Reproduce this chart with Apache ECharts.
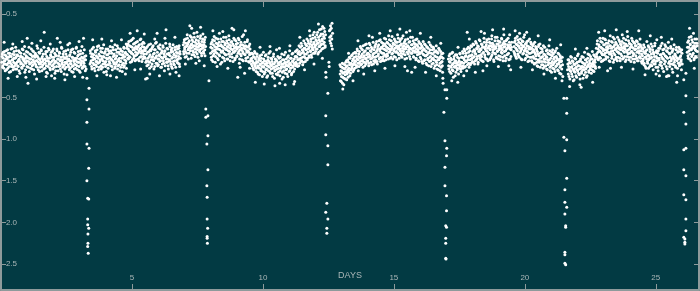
<!DOCTYPE html>
<html>
<head>
<meta charset="utf-8">
<script src="https://cdn.jsdelivr.net/npm/echarts@6/dist/echarts.min.js"></script>
<style>
html,body{margin:0;padding:0;background:#023a43;}
#chart{width:700px;height:291px;}
</style>
</head>
<body>
<div id="chart"></div>
<script>
// x: days, y: relative magnitude (axis inverted)
const xTicks = [5, 10, 15, 20, 25];
const yTicks = [-0.5, 0, 0.5, 1.0, 1.5, 2.0, 2.5];
const xLabel = 'DAYS';

const bandA = [[0.03,0.08],[0.05,-0.02],[0.07,0.12],[0.09,0.03],[0.11,0.15],[0.13,-0.05],[0.15,0.06],[0.17,0.10],[0.19,0.00],[0.21,0.17],[0.23,0.04],[0.25,-0.07],[0.27,0.09],[0.29,0.02],[0.31,0.13],[0.33,-0.03],[0.35,0.07],[0.37,0.19],[0.39,0.01],[0.41,0.11],[0.43,-0.09],[0.45,0.05],[0.47,0.14],[0.49,0.03],[0.51,-0.01],[0.53,0.09],[0.55,0.16],[0.57,0.02],[0.59,-0.06],[0.61,0.08],[0.63,0.12],[0.65,0.00],[0.67,0.05],[0.69,0.18],[0.71,-0.04],[0.73,0.07],[0.75,0.10],[0.77,0.01],[0.79,0.14],[0.81,-0.08],[0.83,0.04],[0.85,0.11],[0.87,0.06],[0.89,-0.02],[0.91,0.20],[0.93,0.03],[0.95,0.09],[0.97,-0.05],[0.99,0.13],[1.00,-0.21],[1.01,0.02],[1.03,0.33],[1.05,0.07],[1.07,-0.10],[1.09,0.10],[1.11,0.04],[1.13,0.15],[1.15,-0.01],[1.17,0.08],[1.19,0.12],[1.21,-0.06],[1.23,0.05],[1.25,0.17],[1.27,0.00],[1.29,0.09],[1.31,-0.03],[1.33,0.11],[1.35,0.06],[1.37,-0.12],[1.39,0.14],[1.41,0.02],[1.43,0.08],[1.45,-0.04],[1.47,0.19],[1.49,0.05],[1.51,0.10],[1.53,-0.07],[1.55,0.03],[1.57,0.13],[1.59,0.07],[1.61,-0.02],[1.63,0.16],[1.65,-0.28],[1.67,0.04],[1.69,0.09],[1.71,-0.05],[1.73,0.12],[1.75,0.01],[1.77,0.21],[1.79,0.06],[1.81,-0.09],[1.83,0.10],[1.85,0.03],[1.87,0.15],[1.89,-0.01],[1.91,0.08],[1.93,0.24],[1.95,0.02],[1.97,-0.06],[1.99,0.11],[2.01,0.05],[2.03,0.14],[2.05,-0.03],[2.07,0.07],[2.09,0.18],[2.11,0.00],[2.13,-0.08],[2.15,-0.21],[2.17,0.09],[2.19,0.04],[2.21,0.13],[2.23,-0.04],[2.25,0.06],[2.27,0.16],[2.29,0.02],[2.31,-0.10],[2.33,0.10],[2.35,0.05],[2.37,-0.02],[2.39,0.12],[2.41,0.22],[2.43,0.03],[2.45,0.08],[2.47,-0.06],[2.49,0.14],[2.51,0.01],[2.53,0.07],[2.55,-0.13],[2.57,0.11],[2.59,0.04],[2.61,0.17],[2.63,-0.01],[2.65,0.09],[2.67,0.06],[2.69,-0.07],[2.71,0.13],[2.73,0.02],[2.75,0.20],[2.77,0.05],[2.79,-0.04],[2.81,0.10],[2.83,0.03],[2.85,0.15],[2.87,-0.09],[2.89,0.07],[2.91,0.12],[2.93,0.00],[2.95,-0.05],[2.97,0.08],[2.99,0.18],[3.01,0.04],[3.03,-0.02],[3.05,0.11],[3.07,0.06],[3.09,-0.11],[3.11,0.14],[3.13,0.03],[3.15,-0.21],[3.17,0.09],[3.19,0.01],[3.21,0.13],[3.23,0.05],[3.25,0.16],[3.28,0.27]];
const bandA2 = [[0.04,0.01],[0.06,0.14],[0.08,-0.04],[0.10,0.07],[0.12,0.10],[0.14,-0.01],[0.16,0.18],[0.18,0.04],[0.20,-0.06],[0.22,0.11],[0.24,0.02],[0.26,0.15],[0.28,-0.03],[0.30,0.06],[0.32,0.20],[0.34,0.00],[0.36,0.09],[0.38,-0.08],[0.40,0.13],[0.42,0.05],[0.44,-0.02],[0.46,0.17],[0.48,0.08],[0.50,-0.05],[0.52,0.12],[0.54,0.03],[0.56,-0.10],[0.58,0.10],[0.60,0.16],[0.62,-0.01],[0.64,0.07],[0.66,0.13],[0.68,-0.06],[0.70,0.04],[0.72,0.21],[0.74,0.01],[0.76,-0.03],[0.78,0.09],[0.80,0.15],[0.82,0.02],[0.84,-0.07],[0.86,0.12],[0.88,0.05],[0.90,-0.11],[0.92,0.08],[0.94,0.17],[0.96,0.00],[0.98,0.06],[1.02,-0.04],[1.04,0.14],[1.06,0.03],[1.08,0.19],[1.10,-0.02],[1.12,0.09],[1.14,0.04],[1.16,-0.08],[1.18,0.16],[1.20,0.01],[1.22,0.11],[1.24,-0.05],[1.26,0.07],[1.28,0.22],[1.30,0.02],[1.32,-0.01],[1.34,0.13],[1.36,0.06],[1.38,0.00],[1.40,-0.09],[1.42,0.17],[1.44,0.04],[1.46,0.10],[1.48,-0.03],[1.50,0.14],[1.52,0.08],[1.54,-0.06],[1.56,0.18],[1.58,0.01],[1.60,0.11],[1.62,0.05],[1.64,-0.10],[1.66,0.09],[1.68,0.15],[1.70,-0.02],[1.72,0.06],[1.74,0.20],[1.76,-0.05],[1.78,0.03],[1.80,0.13],[1.82,0.07],[1.84,-0.07],[1.86,0.10],[1.88,0.17],[1.90,0.00],[1.92,-0.04],[1.94,0.12],[1.96,0.06],[1.98,0.16],[2.00,-0.08],[2.02,0.02],[2.04,0.09],[2.06,0.21],[2.08,-0.01],[2.10,0.07],[2.12,0.13],[2.14,-0.06],[2.16,0.04],[2.18,0.18],[2.20,0.00],[2.22,0.10],[2.24,-0.03],[2.26,0.12],[2.28,0.05],[2.30,0.19],[2.32,-0.09],[2.34,0.08],[2.36,0.14],[2.38,0.01],[2.40,-0.05],[2.42,0.11],[2.44,0.16],[2.46,0.03],[2.48,-0.02],[2.50,0.09],[2.52,0.23],[2.54,0.04],[2.56,-0.07],[2.58,0.13],[2.60,0.06],[2.62,0.00],[2.64,0.15],[2.66,-0.04],[2.68,0.10],[2.70,0.19],[2.72,0.02],[2.74,-0.08],[2.76,0.12],[2.78,0.07],[2.80,0.16],[2.82,-0.03],[2.84,0.05],[2.86,0.11],[2.88,-0.10],[2.90,0.03],[2.92,0.17],[2.94,0.08],[2.96,-0.01],[2.98,0.13],[3.00,0.04],[3.02,0.20],[3.04,-0.06],[3.06,0.09],[3.08,0.02],[3.10,0.15],[3.12,-0.03],[3.14,0.07],[3.16,0.12],[3.18,-0.07],[3.20,0.05],[3.22,0.18],[3.24,0.00]];

const dip1 = [[3.36,0.39],[3.28,0.53],[3.36,0.64],[3.28,0.80],[3.28,1.06],[3.36,1.11],[3.35,1.35],[3.28,1.50],[3.31,1.71],[3.35,1.72],[3.31,1.96],[3.31,2.03],[3.35,2.07],[3.32,2.14],[3.32,2.25],[3.31,2.29],[3.33,2.37]];

const bandB = [[3.40,0.10],[3.42,-0.03],[3.44,0.06],[3.46,0.13],[3.48,-0.08],[3.50,0.02],[3.52,0.09],[3.54,-0.01],[3.56,0.15],[3.58,0.04],[3.60,-0.06],[3.62,0.11],[3.64,0.00],[3.66,0.07],[3.68,-0.11],[3.70,0.03],[3.72,0.17],[3.74,-0.02],[3.76,0.08],[3.78,0.05],[3.80,-0.09],[3.82,0.12],[3.84,0.01],[3.86,-0.04],[3.88,0.14],[3.90,0.06],[3.92,-0.13],[3.94,0.02],[3.96,0.10],[3.98,-0.05],[4.00,0.07],[4.02,0.19],[4.04,-0.01],[4.06,0.04],[4.08,-0.08],[4.10,0.11],[4.12,0.03],[4.14,-0.03],[4.16,0.09],[4.18,0.24],[4.20,-0.06],[4.22,0.05],[4.24,0.13],[4.26,-0.10],[4.28,0.01],[4.30,0.08],[4.32,-0.02],[4.34,0.15],[4.36,0.04],[4.38,-0.07],[4.40,0.10],[4.42,0.00],[4.44,-0.12],[4.46,0.06],[4.48,0.12],[4.50,-0.04],[4.52,0.03],[4.54,0.18],[4.56,-0.08],[4.58,0.07],[4.60,-0.01],[4.62,0.11],[4.64,-0.05],[4.66,0.02],[4.68,0.14],[4.70,-0.09],[4.72,0.05],[4.74,-0.03],[4.76,0.09],[4.78,-0.14],
[4.80,-0.02],[4.82,-0.12],[4.84,0.03],[4.86,-0.08],[4.88,-0.17],[4.90,0.01],[4.92,-0.05],[4.94,0.08],[4.96,-0.11],[4.98,-0.03],[5.00,-0.19],[5.02,0.05],[5.04,-0.07],[5.06,-0.14],[5.08,0.00],[5.10,-0.09],[5.12,0.06],[5.14,-0.04],[5.16,-0.16],[5.18,-0.01],[5.20,-0.30],[5.22,-0.10],[5.24,0.04],[5.26,-0.06],[5.28,-0.13],[5.30,0.02],[5.32,-0.08],[5.34,-0.20],[5.36,-0.03],[5.38,0.07],[5.40,-0.11],[5.42,-0.05],[5.44,0.01],[5.46,-0.15],[5.48,-0.07],
[5.50,0.03],[5.52,0.28],[5.54,-0.09],[5.56,0.06],[5.58,0.27],[5.60,-0.04],[5.62,0.11],[5.64,-0.13],[5.66,0.01],[5.68,0.08],[5.70,-0.07],[5.72,-0.06],[5.74,0.13],[5.76,0.02],[5.78,-0.10],[5.80,0.05],[5.82,-0.02],[5.84,0.16],[5.86,-0.07],[5.88,0.03],[5.90,-0.15],[5.92,0.09],[5.94,0.00],[5.96,-0.27],[5.98,0.12],[6.00,-0.11],[6.02,0.04],[6.04,-0.01],[6.06,0.07],[6.08,-0.08],[6.10,0.14],[6.12,0.02],[6.14,-0.04],[6.16,0.10],[6.18,-0.12],[6.20,0.06],[6.22,-0.02],[6.24,0.18],[6.26,-0.06],[6.28,0.01],[6.30,-0.31],[6.32,0.08],[6.34,-0.09],[6.36,0.04],[6.38,0.12],[6.40,-0.03],[6.42,0.06],[6.44,-0.14],[6.46,0.00],[6.48,0.10],[6.50,-0.07],[6.52,0.03],[6.54,0.15],[6.56,-0.05],[6.58,0.07],[6.60,-0.01],[6.62,0.11],[6.64,-0.10],[6.66,0.02],[6.68,0.20],[6.70,-0.04],[6.72,0.05],[6.74,-0.08],[6.76,0.09],[6.78,0.01],[6.80,-0.12],[6.82,0.13],[6.84,-0.02],
[6.97,-0.05],[6.99,-0.16],[7.01,-0.08],[7.03,0.02],[7.05,-0.20],[7.07,-0.11],[7.09,-0.03],[7.11,-0.25],[7.13,-0.14],[7.15,0.04],[7.17,-0.09],[7.19,-0.18],[7.21,-0.36],[7.23,-0.06],[7.25,-0.13],[7.27,-0.22],[7.29,-0.01],[7.31,-0.10],[7.33,-0.17],[7.35,-0.04],[7.37,-0.27],[7.39,-0.12],[7.41,0.01],[7.43,-0.08],[7.45,-0.19],[7.47,-0.14],[7.49,-0.02],[7.51,-0.23],[7.53,-0.10],[7.55,-0.15],[7.57,0.06],[7.59,-0.07],[7.61,-0.21],[7.63,-0.12],[7.65,-0.03],[7.67,-0.17],[7.69,-0.09],[7.71,-0.26],[7.73,-0.05],[7.75,-0.13],[7.77,-0.19],[7.79,0.00],[7.81,-0.11]];
const bandB2 = [[3.41,-0.06],[3.43,0.08],[3.45,0.01],[3.47,0.16],[3.49,-0.02],[3.51,0.05],[3.53,-0.10],[3.55,0.11],[3.57,0.03],[3.59,0.18],[3.61,-0.04],[3.63,0.07],[3.65,0.13],[3.67,-0.07],[3.69,0.02],[3.71,0.09],[3.73,-0.12],[3.75,0.14],[3.77,0.00],[3.79,0.06],[3.81,-0.05],[3.83,0.16],[3.85,0.04],[3.87,-0.09],[3.89,0.10],[3.91,0.01],[3.93,0.20],[3.95,-0.03],[3.97,0.08],[3.99,0.13],[4.01,-0.08],[4.03,0.03],[4.05,0.11],[4.07,-0.01],[4.09,0.15],[4.11,-0.06],[4.13,0.07],[4.15,0.02],[4.17,-0.11],[4.19,0.12],[4.21,0.04],[4.23,-0.03],[4.25,0.17],[4.27,0.06],[4.29,-0.07],[4.31,0.10],[4.33,0.00],[4.35,-0.13],[4.37,0.13],[4.39,0.03],[4.41,0.08],[4.43,-0.04],[4.45,0.16],[4.47,-0.09],[4.49,0.05],[4.51,0.11],[4.53,-0.02],[4.55,0.07],[4.57,0.14],[4.59,-0.06],[4.61,0.03],[4.63,0.19],[4.65,-0.01],[4.67,0.09],[4.69,-0.10],[4.71,0.12],[4.73,0.01],[4.75,-0.04],[4.77,0.06],[4.79,0.15],
[4.81,-0.09],[4.83,-0.01],[4.85,-0.14],[4.87,0.04],[4.89,-0.06],[4.91,-0.12],[4.93,0.02],[4.95,-0.18],[4.97,-0.04],[4.99,0.07],[5.01,-0.10],[5.03,-0.02],[5.05,-0.21],[5.07,0.03],[5.09,-0.07],[5.11,-0.15],[5.13,0.00],[5.15,-0.11],[5.17,0.05],[5.19,-0.08],[5.21,-0.17],[5.23,-0.03],[5.25,-0.12],[5.27,0.06],[5.29,-0.05],[5.31,-0.19],[5.33,-0.09],[5.35,0.01],[5.37,-0.14],[5.39,-0.06],[5.41,0.04],[5.43,-0.16],[5.45,-0.02],[5.47,-0.10],[5.49,0.02],
[5.51,-0.06],[5.53,0.08],[5.55,-0.02],[5.57,0.12],[5.59,-0.11],[5.61,0.03],[5.63,0.07],[5.65,-0.05],[5.67,0.15],[5.69,-0.01],[5.71,-0.14],[5.73,0.05],[5.75,-0.08],[5.77,0.10],[5.79,0.01],[5.81,-0.12],[5.83,0.06],[5.85,-0.03],[5.87,0.13],[5.89,-0.07],[5.91,0.02],[5.93,-0.16],[5.95,0.09],[5.97,-0.04],[5.99,0.04],[6.01,0.11],[6.03,-0.09],[6.05,0.00],[6.07,-0.13],[6.09,0.06],[6.11,-0.03],[6.13,0.14],[6.15,-0.06],[6.17,0.03],[6.19,-0.10],[6.21,0.09],[6.23,0.01],[6.25,-0.05],[6.27,0.12],[6.29,-0.15],[6.31,0.04],[6.33,-0.02],[6.35,0.08],[6.37,-0.08],[6.39,0.16],[6.41,-0.01],[6.43,0.05],[6.45,-0.11],[6.47,0.07],[6.49,-0.04],[6.51,0.13],[6.53,-0.09],[6.55,0.02],[6.57,-0.13],[6.59,0.10],[6.61,-0.02],[6.63,0.06],[6.65,-0.07],[6.67,0.14],[6.69,0.00],[6.71,-0.11],[6.73,0.08],[6.75,-0.03],[6.77,0.04],[6.79,-0.09],[6.81,0.10],[6.83,-0.05],[6.85,0.03],
[6.96,-0.13],[6.98,-0.02],[7.00,-0.19],[7.02,-0.10],[7.04,-0.05],[7.06,-0.15],[7.08,0.01],[7.10,-0.12],[7.12,-0.21],[7.14,-0.07],[7.16,-0.16],[7.18,-0.03],[7.20,-0.11],[7.22,-0.24],[7.24,-0.09],[7.26,0.03],[7.28,-0.14],[7.30,-0.19],[7.32,-0.06],[7.34,-0.12],[7.36,-0.01],[7.38,-0.22],[7.40,-0.08],[7.42,-0.16],[7.44,-0.04],[7.46,-0.11],[7.48,-0.28],[7.50,-0.07],[7.52,0.02],[7.54,-0.18],[7.56,-0.12],[7.58,-0.05],[7.60,-0.14],[7.62,-0.24],[7.64,-0.08],[7.66,0.00],[7.68,-0.13],[7.70,-0.20],[7.72,-0.10],[7.74,-0.03],[7.76,-0.16],[7.78,-0.07],[7.80,-0.22]];

const dip2 = [[7.94,0.30],[7.82,0.64],[7.82,0.74],[7.90,0.72],[7.90,0.96],[7.86,1.06],[7.90,1.37],[7.86,1.56],[7.87,1.70],[7.87,1.96],[7.89,2.07],[7.87,2.17],[7.87,2.19],[7.88,2.25]];

const bandC = [[8.00,-0.03],[8.02,-0.14],[8.04,0.05],[8.06,-0.09],[8.08,-0.19],[8.10,0.00],[8.12,-0.06],[8.14,-0.23],[8.16,-0.11],[8.18,0.08],[8.20,-0.04],[8.22,-0.15],[8.24,-0.08],[8.26,0.03],[8.28,-0.20],[8.30,-0.12],[8.32,-0.01],[8.34,-0.27],[8.36,-0.07],[8.38,0.10],[8.40,-0.13],[8.42,-0.05],[8.44,-0.17],[8.46,0.02],[8.48,-0.10],[8.50,-0.22],[8.52,-0.03],[8.54,0.06],[8.56,-0.15],[8.58,-0.08],[8.60,-0.01],[8.62,-0.18],[8.64,-0.11],[8.66,0.04],[8.68,-0.06],[8.70,-0.24],[8.72,-0.13],[8.74,0.01],[8.76,-0.09],[8.78,-0.16],[8.80,-0.02],[8.82,-0.33],[8.84,-0.07],[8.86,0.07],[8.88,-0.12],[8.90,-0.04],[8.92,-0.19],[8.94,0.03],[8.96,-0.10],[8.98,-0.14],[9.00,0.00],[9.02,-0.08],[9.04,0.26],[9.06,-0.21],[9.08,-0.05],[9.10,0.09],[9.12,-0.11],[9.14,-0.02],[9.16,-0.16],[9.18,-0.07],[9.20,0.05],[9.22,-0.13],[9.24,-0.03],[9.26,-0.25],[9.28,-0.09],[9.30,0.21],[9.32,-0.01],[9.34,-0.12],[9.36,0.06],[9.38,-0.06],[9.40,-0.17],[9.42,0.02],[9.44,-0.10],[9.46,-0.04],[9.48,0.08],[9.50,-0.14],[9.52,-0.02],[9.54,0.04],
[9.56,0.10],[9.58,-0.03],[9.60,0.06],[9.62,0.15],[9.64,0.01],[9.66,0.09],[9.68,-0.05],[9.70,0.13],[9.72,0.04],[9.74,0.19],[9.76,0.07],[9.78,-0.02],[9.80,0.12],[9.82,0.22],[9.84,0.05],[9.86,0.15],[9.88,0.00],[9.90,0.10],[9.92,0.18],[9.94,0.03],[9.96,0.13],[9.98,0.25],[10.00,0.08],[10.02,-0.04],[10.04,0.14],[10.06,0.06],[10.08,0.20],[10.10,0.11],[10.12,-0.01],[10.14,0.16],[10.16,0.09],[10.18,0.24],[10.20,0.02],[10.22,0.13],[10.24,0.07],[10.26,0.19],[10.28,-0.05],[10.30,0.11],[10.32,0.16],[10.34,0.04],[10.36,0.21],[10.38,0.10],[10.40,0.01],[10.42,0.14],[10.44,0.27],[10.46,0.08],[10.48,0.17],[10.50,0.05],[10.52,-0.07],[10.54,0.12],[10.56,0.23],[10.58,0.09],[10.60,0.15],[10.62,0.03],[10.64,0.33],[10.66,0.18],[10.68,0.07],[10.70,0.13],[10.72,-0.02],[10.74,0.20],[10.76,0.10],[10.78,0.26],[10.80,0.05],[10.82,0.14],[10.84,0.08],[10.86,-0.04],[10.88,0.17],[10.90,0.11],[10.92,0.22],[10.94,0.02],[10.96,0.12],[10.98,0.06],[11.00,0.19],[11.02,-0.06],[11.04,0.09],[11.06,0.15],[11.08,0.03],[11.10,0.21],[11.12,0.07],[11.14,-0.03],[11.16,0.12],[11.18,0.34],[11.20,0.04],[11.22,0.10],[11.24,-0.05],
[11.26,0.08],[11.28,-0.06],[11.30,0.02],[11.32,0.13],[11.34,-0.03],[11.36,0.05],[11.38,-0.12],[11.40,0.09],[11.42,-0.01],[11.44,0.03],[11.46,-0.15],[11.48,0.06],[11.50,-0.07],[11.52,0.11],[11.54,-0.04],[11.56,-0.18],[11.58,0.01],[11.60,-0.09],[11.62,0.07],[11.64,-0.13],[11.66,-0.02],[11.68,-0.20],[11.70,0.03],[11.72,-0.08],[11.74,-0.15],[11.76,0.00],[11.78,-0.11],[11.80,-0.24],[11.82,-0.05],[11.84,-0.17],[11.86,0.02],[11.88,-0.10],[11.90,-0.21],[11.92,-0.07],[11.94,-0.14],[11.96,-0.28],[11.98,-0.03],[12.00,-0.12],[12.02,-0.19],[12.04,-0.08],[12.06,-0.25],[12.08,-0.15],[12.10,-0.02],[12.12,-0.22],[12.14,-0.11],[12.16,-0.31],[12.18,-0.17],[12.20,-0.06],[12.22,-0.26],[12.24,-0.14],[12.26,-0.20],[12.28,-0.35],[12.30,-0.09],[12.32,-0.23],[12.34,-0.16],[12.36,-0.29],[12.38,-0.12],[12.40,0.20],[12.41,0.26],[12.52,0.08],[12.53,0.13],
[12.54,-0.30],[12.56,-0.18],[12.58,-0.36],[12.60,-0.24],[12.62,-0.12],[12.64,-0.39],[12.66,-0.27]];
const bandC2 = [[8.01,-0.10],[8.03,0.02],[8.05,-0.16],[8.07,-0.05],[8.09,0.07],[8.11,-0.13],[8.13,-0.02],[8.15,-0.18],[8.17,-0.07],[8.19,0.01],[8.21,-0.21],[8.23,-0.10],[8.25,-0.03],[8.27,-0.14],[8.29,0.05],[8.31,-0.08],[8.33,-0.16],[8.35,0.00],[8.37,-0.12],[8.39,-0.20],[8.41,-0.04],[8.43,0.08],[8.45,-0.11],[8.47,-0.06],[8.49,-0.17],[8.51,0.03],[8.53,-0.09],[8.55,-0.13],[8.57,-0.01],[8.59,-0.22],[8.61,-0.07],[8.63,0.04],[8.65,-0.15],[8.67,-0.10],[8.69,-0.02],[8.71,-0.19],[8.73,-0.05],[8.75,0.06],[8.77,-0.12],[8.79,-0.08],[8.81,-0.17],[8.83,0.02],[8.85,-0.14],[8.87,-0.04],[8.89,-0.21],[8.91,-0.09],[8.93,0.05],[8.95,-0.06],[8.97,-0.18],[8.99,-0.11],[9.01,0.01],[9.03,-0.15],[9.05,-0.03],[9.07,-0.10],[9.09,-0.19],[9.11,0.04],[9.13,-0.07],[9.15,-0.13],[9.17,0.00],[9.19,-0.09],[9.21,-0.23],[9.23,-0.05],[9.25,0.06],[9.27,-0.12],[9.29,-0.02],[9.31,-0.16],[9.33,-0.08],[9.35,0.03],[9.37,-0.11],[9.39,-0.04],[9.41,-0.19],[9.43,-0.06],[9.45,0.07],[9.47,-0.12],[9.49,-0.01],[9.51,-0.08],[9.53,0.06],[9.55,-0.03],
[9.57,0.03],[9.59,0.12],[9.61,-0.02],[9.63,0.08],[9.65,0.17],[9.67,0.02],[9.69,0.11],[9.71,-0.03],[9.73,0.09],[9.75,0.15],[9.77,0.01],[9.79,0.20],[9.81,0.08],[9.83,0.14],[9.85,0.03],[9.87,0.23],[9.89,0.11],[9.91,0.06],[9.93,0.16],[9.95,-0.01],[9.97,0.09],[9.99,0.19],[10.01,0.13],[10.03,0.04],[10.05,0.22],[10.07,0.10],[10.09,0.00],[10.11,0.17],[10.13,0.07],[10.15,0.26],[10.17,0.12],[10.19,0.05],[10.21,0.18],[10.23,-0.03],[10.25,0.14],[10.27,0.09],[10.29,0.21],[10.31,0.03],[10.33,0.12],[10.35,0.07],[10.37,0.25],[10.39,0.15],[10.41,-0.02],[10.43,0.10],[10.45,0.18],[10.47,0.04],[10.49,0.13],[10.51,0.22],[10.53,0.06],[10.55,0.16],[10.57,0.01],[10.59,0.20],[10.61,0.11],[10.63,0.08],[10.65,0.24],[10.67,0.02],[10.69,0.15],[10.71,0.10],[10.73,0.28],[10.75,0.05],[10.77,0.13],[10.79,0.18],[10.81,-0.01],[10.83,0.09],[10.85,0.21],[10.87,0.12],[10.89,0.04],[10.91,0.16],[10.93,0.08],[10.95,0.25],[10.97,0.00],[10.99,0.13],[11.01,0.10],[11.03,0.18],[11.05,0.03],[11.07,0.11],[11.09,0.23],[11.11,-0.02],[11.13,0.14],[11.15,0.06],[11.17,0.19],[11.19,0.09],[11.21,0.16],[11.23,0.01],[11.25,0.12],
[11.27,0.01],[11.29,0.10],[11.31,-0.07],[11.33,0.05],[11.35,-0.02],[11.37,0.12],[11.39,-0.05],[11.41,0.04],[11.43,-0.10],[11.45,0.07],[11.47,-0.03],[11.49,-0.12],[11.51,0.02],[11.53,-0.06],[11.55,0.08],[11.57,-0.09],[11.59,-0.02],[11.61,-0.15],[11.63,0.03],[11.65,-0.07],[11.67,-0.12],[11.69,0.05],[11.71,-0.04],[11.73,-0.18],[11.75,-0.09],[11.77,0.02],[11.79,-0.14],[11.81,-0.06],[11.83,-0.20],[11.85,-0.01],[11.87,-0.13],[11.89,-0.08],[11.91,-0.25],[11.93,-0.03],[11.95,-0.16],[11.97,-0.10],[11.99,-0.22],[12.01,-0.05],[12.03,-0.13],[12.05,-0.18],[12.07,-0.08],[12.09,-0.28],[12.11,-0.15],[12.13,-0.04],[12.15,-0.19],[12.17,-0.11],[12.19,-0.24],[12.21,-0.13],[12.23,-0.32],[12.25,-0.08],[12.27,-0.18],[12.29,-0.26],[12.31,-0.14],[12.33,-0.33],[12.35,-0.21],[12.37,-0.10],[12.39,-0.25],
[12.55,-0.22],[12.57,-0.31],[12.59,-0.15],[12.61,-0.33],[12.63,-0.20],[12.65,-0.08]];

const dip3 = [[12.48,0.45],[12.40,0.72],[12.40,0.95],[12.48,1.08],[12.48,1.31],[12.44,1.77],[12.40,1.88],[12.48,1.96],[12.44,2.07],[12.44,2.13]];

const bandD = [[12.94,0.11],[12.96,0.30],[12.98,0.18],[13.00,0.25],[13.02,0.14],[13.04,0.33],[13.06,0.21],[13.08,0.10],[13.10,0.27],[13.12,0.16],[13.14,0.23],[13.16,0.08],[13.18,0.19],[13.20,0.29],[13.22,0.12],[13.24,0.05],[13.26,0.20],[13.28,0.15],[13.30,0.02],[13.32,0.24],[13.34,0.10],[13.36,0.17],[13.38,0.00],[13.40,0.13],[13.42,0.06],[13.44,0.19],[13.46,-0.03],[13.48,0.09],
[13.50,0.15],[13.52,-0.04],[13.54,0.07],[13.56,0.01],[13.58,0.12],[13.60,-0.08],[13.62,0.05],[13.64,0.18],[13.66,-0.02],[13.68,0.09],[13.70,0.03],[13.72,-0.11],[13.74,0.11],[13.76,0.00],[13.78,0.06],[13.80,-0.07],[13.82,0.14],[13.84,0.02],[13.86,-0.04],[13.88,0.08],[13.90,-0.13],[13.92,0.04],[13.94,0.10],[13.96,-0.01],[13.98,-0.09],[14.00,0.06],[14.02,-0.03],[14.04,0.12],[14.06,-0.15],[14.08,0.01],[14.10,-0.06],[14.12,0.08],[14.14,-0.10],[14.16,0.03],[14.18,-0.22],[14.20,-0.02],[14.22,0.10],[14.24,-0.07],[14.26,0.02],[14.28,-0.12],[14.30,0.05],[14.32,-0.04],[14.34,-0.17],[14.36,0.07],[14.38,-0.08],[14.40,0.00],[14.42,-0.13],[14.44,0.04],[14.46,-0.06],[14.48,-0.19],[14.50,0.02],[14.52,-0.10],[14.54,0.06],[14.56,-0.03],[14.58,-0.15],[14.60,0.01],[14.62,-0.08],[14.64,-0.21],[14.66,-0.01],[14.68,-0.12],[14.70,0.05],[14.72,-0.06],[14.74,-0.16],[14.76,0.00],[14.78,-0.09],[14.80,-0.24],[14.82,-0.04],[14.84,-0.13],[14.86,0.03],[14.88,-0.07],[14.90,-0.18],[14.92,-0.02],[14.94,-0.11],[14.96,0.04],[14.98,-0.14],[15.00,-0.06],[15.02,-0.20],[15.04,-0.09],[15.06,0.02],[15.08,-0.16],[15.10,-0.05],[15.12,-0.12],[15.14,-0.25],[15.16,-0.03],[15.18,-0.10],[15.20,0.03],[15.22,-0.17],[15.24,-0.08],[15.26,-0.13],[15.28,0.00],[15.30,-0.21],[15.32,-0.06],[15.34,-0.11],[15.36,-0.02],[15.38,-0.15],[15.40,-0.08],[15.42,0.04],[15.44,-0.19],[15.46,-0.10],[15.48,-0.28],[15.50,-0.04],[15.52,0.18],[15.54,-0.12],[15.56,-0.07],[15.58,-0.16],[15.60,0.01],[15.62,-0.09],[15.64,-0.22],[15.66,-0.03],[15.68,0.20],[15.70,-0.13],[15.72,-0.06],[15.74,-0.18],[15.76,0.02],[15.78,-0.10],[15.80,-0.04],[15.82,-0.14],[15.84,0.05],[15.86,-0.08],[15.88,-0.20],[15.90,-0.01],[15.92,-0.11],[15.94,-0.05],[15.96,0.07],[15.98,-0.15],[16.00,-0.03],[16.02,-0.09],[16.04,0.04],[16.06,-0.12],[16.08,-0.06],[16.10,0.09],[16.12,-0.17],[16.14,-0.01],[16.16,-0.08],[16.18,0.05],[16.20,-0.13],[16.22,0.00],[16.24,-0.05],[16.26,0.11],[16.28,-0.10],[16.30,0.03],[16.32,-0.03],[16.34,-0.16],[16.36,0.07],[16.38,-0.07],[16.40,0.01],[16.42,0.13],[16.44,-0.11],[16.46,0.04],[16.48,-0.02],[16.50,0.09],[16.52,-0.08],[16.54,0.15],[16.56,0.00],[16.58,-0.05],[16.60,0.06],[16.62,-0.12],[16.64,0.11],[16.66,0.02],[16.68,-0.03],[16.70,0.17],[16.72,0.05],[16.74,-0.07],[16.76,0.09],[16.78,0.01],[16.80,0.14],[16.82,-0.02],[16.84,0.07],[16.86,0.20],[16.88,0.03]];
const bandD2 = [[12.95,0.22],[12.97,0.13],[12.99,0.31],[13.01,0.19],[13.03,0.09],[13.05,0.26],[13.07,0.15],[13.09,0.35],[13.11,0.20],[13.13,0.11],[13.15,0.28],[13.17,0.14],[13.19,0.06],[13.21,0.22],[13.23,0.17],[13.25,0.26],[13.27,0.08],[13.29,0.18],[13.31,0.11],[13.33,0.03],[13.35,0.21],[13.37,0.09],[13.39,0.15],[13.41,-0.01],[13.43,0.11],[13.45,0.04],[13.47,0.17],[13.49,0.02],
[13.51,0.06],[13.53,0.11],[13.55,-0.03],[13.57,0.14],[13.59,0.04],[13.61,-0.06],[13.63,0.09],[13.65,0.01],[13.67,0.13],[13.69,-0.05],[13.71,0.07],[13.73,0.02],[13.75,-0.09],[13.77,0.10],[13.79,-0.02],[13.81,0.05],[13.83,-0.12],[13.85,0.08],[13.87,0.00],[13.89,0.12],[13.91,-0.06],[13.93,0.03],[13.95,-0.14],[13.97,0.07],[13.99,-0.03],[14.01,0.02],[14.03,-0.09],[14.05,0.09],[14.07,-0.01],[14.09,-0.13],[14.11,0.04],[14.13,-0.05],[14.15,0.11],[14.17,-0.08],[14.19,0.00],[14.21,-0.16],[14.23,0.06],[14.25,-0.03],[14.27,-0.10],[14.29,0.08],[14.31,-0.14],[14.33,0.01],[14.35,-0.06],[14.37,0.10],[14.39,-0.11],[14.41,-0.02],[14.43,-0.18],[14.45,0.03],[14.47,-0.08],[14.49,0.07],[14.51,-0.04],[14.53,-0.16],[14.55,-0.09],[14.57,0.04],[14.59,-0.12],[14.61,-0.03],[14.63,0.06],[14.65,-0.14],[14.67,-0.07],[14.69,-0.20],[14.71,0.01],[14.73,-0.10],[14.75,-0.02],[14.77,-0.15],[14.79,0.04],[14.81,-0.08],[14.83,-0.19],[14.85,-0.05],[14.87,-0.12],[14.89,0.02],[14.91,-0.09],[14.93,-0.23],[14.95,-0.03],[14.97,-0.15],[14.99,-0.07],[15.01,0.01],[15.03,-0.13],[15.05,-0.18],[15.07,-0.04],[15.09,-0.10],[15.11,0.05],[15.13,-0.16],[15.15,-0.08],[15.17,-0.21],[15.19,-0.01],[15.21,-0.12],[15.23,-0.06],[15.25,-0.19],[15.27,-0.03],[15.29,-0.14],[15.31,0.02],[15.33,-0.09],[15.35,-0.24],[15.37,-0.05],[15.39,-0.12],[15.41,-0.17],[15.43,-0.01],[15.45,-0.08],[15.47,-0.14],[15.49,0.03],[15.51,-0.11],[15.53,-0.20],[15.55,-0.02],[15.57,-0.10],[15.59,-0.05],[15.61,-0.17],[15.63,0.04],[15.65,-0.08],[15.67,-0.13],[15.69,-0.03],[15.71,-0.22],[15.73,-0.09],[15.75,0.01],[15.77,-0.15],[15.79,-0.06],[15.81,-0.11],[15.83,-0.19],[15.85,0.03],[15.87,-0.04],[15.89,-0.13],[15.91,-0.07],[15.93,0.06],[15.95,-0.17],[15.97,-0.02],[15.99,-0.09],[16.01,0.02],[16.03,-0.14],[16.05,-0.04],[16.07,0.07],[16.09,-0.10],[16.11,-0.02],[16.13,-0.07],[16.15,0.06],[16.17,-0.14],[16.19,0.00],[16.21,-0.06],[16.23,0.09],[16.25,-0.11],[16.27,-0.01],[16.29,0.05],[16.31,-0.09],[16.33,0.12],[16.35,-0.04],[16.37,0.02],[16.39,-0.13],[16.41,0.06],[16.43,-0.03],[16.45,0.10],[16.47,-0.07],[16.49,0.03],[16.51,-0.10],[16.53,0.05],[16.55,-0.04],[16.57,0.12],[16.59,0.01],[16.61,-0.06],[16.63,0.08],[16.65,0.16],[16.67,-0.04],[16.69,0.05],[16.71,-0.09],[16.73,0.12],[16.75,0.03],[16.77,0.18],[16.79,-0.05],[16.81,0.08],[16.83,0.02],[16.85,0.12],[16.87,-0.03]];

const dip4 = [[16.87,0.27],[16.88,0.33],[16.95,0.41],[17.02,0.41],[17.02,0.51],[16.91,0.68],[16.95,1.02],[17.02,1.11],[17.01,1.20],[16.95,1.34],[16.95,1.56],[17.01,1.68],[17.01,1.86],[16.98,2.04],[17.01,2.06],[16.98,2.19],[16.98,2.25],[16.98,2.43],[16.99,2.44]];

const bandE = [[17.08,0.04],[17.10,0.16],[17.12,0.07],[17.14,-0.02],[17.16,0.13],[17.18,0.21],[17.20,0.05],[17.22,0.11],[17.24,-0.04],[17.26,0.18],[17.28,0.09],[17.30,0.01],[17.32,0.14],[17.34,0.24],[17.36,0.06],[17.38,0.12],[17.40,-0.01],[17.42,0.17],[17.44,0.32],[17.46,0.08],[17.48,0.03],[17.50,0.15],[17.52,-0.03],[17.54,0.10],[17.56,0.19],[17.58,0.02],
[17.60,0.08],[17.62,-0.05],[17.64,0.12],[17.66,0.03],[17.68,-0.08],[17.70,0.14],[17.72,0.01],[17.74,0.07],[17.76,-0.03],[17.78,0.18],[17.80,-0.28],[17.82,0.05],[17.84,-0.10],[17.86,0.09],[17.88,0.00],[17.90,-0.06],[17.92,0.11],[17.94,-0.12],[17.96,0.04],[17.98,-0.01],[18.00,0.07],[18.02,-0.14],[18.04,0.02],[18.06,-0.07],[18.08,0.10],[18.10,-0.03],[18.12,-0.17],[18.14,0.05],[18.16,-0.09],[18.18,0.01],[18.20,-0.12],[18.22,0.08],[18.24,-0.05],[18.26,-0.19],[18.28,0.03],[18.30,-0.08],[18.32,-0.01],[18.34,-0.14],[18.36,0.06],[18.38,-0.10],[18.40,0.18],[18.42,-0.04],[18.44,-0.21],[18.46,-0.27],[18.48,0.02],[18.50,-0.11],[18.52,-0.06],[18.54,-0.16],[18.56,0.04],[18.58,-0.09],[18.60,-0.02],[18.62,-0.20],[18.64,-0.12],[18.66,0.05],[18.68,-0.07],[18.70,-0.15],[18.72,0.01],[18.74,-0.24],[18.76,-0.10],[18.78,-0.04],[18.80,-0.13],[18.82,0.07],[18.84,-0.08],[18.86,-0.18],[18.88,-0.02],[18.90,-0.11],[18.92,0.03],[18.94,-0.22],[18.96,-0.06],[18.98,-0.14],[19.00,0.00],[19.02,-0.09],[19.04,-0.17],[19.06,0.05],[19.08,-0.12],[19.10,-0.04],[19.12,-0.20],[19.14,-0.07],[19.16,0.02],[19.18,-0.15],[19.20,-0.25],[19.22,-0.05],[19.24,-0.11],[19.26,0.06],[19.28,-0.18],[19.30,-0.08],[19.32,-0.01],[19.34,-0.13],[19.36,-0.21],[19.38,-0.03],[19.40,-0.10],[19.42,-0.25],[19.44,0.04],[19.46,0.17],[19.48,-0.07],[19.50,-0.16],
[19.58,-0.05],[19.60,-0.16],[19.62,-0.01],[19.64,-0.21],[19.66,-0.09],[19.68,0.03],[19.70,-0.13],[19.72,-0.06],[19.74,-0.19],[19.76,0.00],[19.78,-0.11],[19.80,-0.27],[19.82,-0.04],[19.84,-0.15],[19.86,0.04],[19.88,-0.08],[19.90,-0.18],[19.92,-0.02],[19.94,-0.12],[19.96,-0.22],[19.98,-0.06],[20.00,0.05],[20.02,-0.14],[20.04,-0.09],[20.06,-0.01],[20.08,-0.17],[20.10,-0.05],[20.12,0.07],[20.14,-0.11],[20.16,-0.03],[20.18,-0.20],[20.20,0.02],[20.22,-0.08],[20.24,-0.14],[20.26,0.06],[20.28,-0.04],[20.30,-0.12],[20.32,0.01],[20.34,-0.07],[20.36,0.10],[20.38,-0.16],[20.40,-0.02],[20.42,0.04],[20.44,-0.09],[20.46,0.08],[20.48,-0.05],[20.50,0.13],[20.52,-0.11],[20.54,0.00],[20.56,0.06],[20.58,-0.14],[20.60,0.03],[20.62,-0.04],[20.64,0.11],[20.66,-0.08],[20.68,0.01],[20.70,0.15],[20.72,-0.02],[20.74,0.07],[20.76,-0.10],[20.78,0.04],[20.80,0.12],[20.82,-0.06],[20.84,0.02],[20.86,0.17],[20.88,-0.03],[20.90,0.08],[20.92,-0.12],[20.94,0.05],[20.96,0.14],[20.98,-0.01],[21.00,0.09],[21.02,0.20],[21.04,0.00],[21.06,-0.07],[21.08,0.11],[21.10,0.04],[21.12,0.16],[21.14,-0.04],[21.16,0.07],[21.18,0.13],[21.20,0.01],[21.22,-0.09],[21.24,0.10],[21.26,0.05],[21.28,0.18],[21.30,-0.02],[21.32,0.08],[21.34,0.14],[21.36,0.03],[21.38,0.22],[21.40,0.06],[21.42,0.30],[21.44,0.11]];
const bandE2 = [[17.09,0.12],[17.11,0.00],[17.13,0.19],[17.15,0.08],[17.17,0.03],[17.19,0.14],[17.21,-0.03],[17.23,0.17],[17.25,0.10],[17.27,0.26],[17.29,0.04],[17.31,0.13],[17.33,0.07],[17.35,-0.01],[17.37,0.20],[17.39,0.09],[17.41,0.15],[17.43,0.02],[17.45,0.11],[17.47,0.22],[17.49,0.06],[17.51,0.12],[17.53,-0.02],[17.55,0.16],[17.57,0.08],[17.59,0.13],
[17.61,0.02],[17.63,0.15],[17.65,-0.03],[17.67,0.09],[17.69,0.05],[17.71,-0.06],[17.73,0.13],[17.75,0.00],[17.77,0.07],[17.79,-0.08],[17.81,0.11],[17.83,0.02],[17.85,-0.04],[17.87,0.14],[17.89,-0.09],[17.91,0.05],[17.93,0.00],[17.95,0.09],[17.97,-0.11],[17.99,0.03],[18.01,-0.05],[18.03,0.08],[18.05,-0.13],[18.07,0.01],[18.09,-0.06],[18.11,0.06],[18.13,-0.02],[18.15,-0.15],[18.17,0.04],[18.19,-0.08],[18.21,0.10],[18.23,-0.11],[18.25,0.00],[18.27,-0.05],[18.29,-0.18],[18.31,0.05],[18.33,-0.07],[18.35,0.01],[18.37,-0.13],[18.39,-0.03],[18.41,0.07],[18.43,-0.10],[18.45,-0.16],[18.47,-0.01],[18.49,-0.08],[18.51,0.04],[18.53,-0.13],[18.55,-0.19],[18.57,-0.05],[18.59,0.06],[18.61,-0.10],[18.63,-0.03],[18.65,-0.16],[18.67,-0.08],[18.69,0.03],[18.71,-0.12],[18.73,-0.20],[18.75,-0.01],[18.77,-0.15],[18.79,-0.07],[18.81,0.05],[18.83,-0.11],[18.85,-0.03],[18.87,-0.22],[18.89,-0.09],[18.91,0.02],[18.93,-0.14],[18.95,-0.05],[18.97,-0.18],[18.99,0.04],[19.01,-0.12],[19.03,-0.07],[19.05,-0.16],[19.07,0.01],[19.09,-0.09],[19.11,-0.21],[19.13,-0.03],[19.15,-0.13],[19.17,0.06],[19.19,-0.10],[19.21,-0.17],[19.23,0.00],[19.25,-0.14],[19.27,-0.06],[19.29,0.03],[19.31,-0.19],[19.33,-0.09],[19.35,-0.02],[19.37,-0.12],[19.39,0.05],[19.41,-0.16],[19.43,-0.08],[19.45,-0.13],[19.47,0.01],[19.49,-0.10],
[19.59,-0.11],[19.61,-0.03],[19.63,-0.18],[19.65,0.01],[19.67,-0.14],[19.69,-0.07],[19.71,-0.23],[19.73,-0.02],[19.75,-0.12],[19.77,-0.16],[19.79,0.02],[19.81,-0.09],[19.83,-0.20],[19.85,-0.06],[19.87,-0.13],[19.89,0.05],[19.91,-0.10],[19.93,-0.17],[19.95,-0.03],[19.97,-0.11],[19.99,-0.25],[20.01,-0.07],[20.03,0.03],[20.05,-0.15],[20.07,-0.05],[20.09,-0.12],[20.11,0.01],[20.13,-0.18],[20.15,-0.08],[20.17,0.06],[20.19,-0.10],[20.21,-0.03],[20.23,-0.16],[20.25,0.02],[20.27,-0.09],[20.29,0.08],[20.31,-0.06],[20.33,-0.14],[20.35,0.03],[20.37,-0.04],[20.39,0.09],[20.41,-0.11],[20.43,0.00],[20.45,-0.07],[20.47,0.12],[20.49,-0.02],[20.51,0.05],[20.53,-0.13],[20.55,0.08],[20.57,-0.03],[20.59,0.14],[20.61,-0.09],[20.63,0.02],[20.65,0.07],[20.67,-0.05],[20.69,0.11],[20.71,-0.12],[20.73,0.04],[20.75,0.13],[20.77,-0.01],[20.79,0.08],[20.81,0.01],[20.83,0.16],[20.85,-0.07],[20.87,0.05],[20.89,0.11],[20.91,-0.02],[20.93,0.09],[20.95,-0.06],[20.97,0.18],[20.99,0.03],[21.01,0.12],[21.03,-0.04],[21.05,0.07],[21.07,0.15],[21.09,-0.02],[21.11,0.09],[21.13,0.02],[21.15,0.19],[21.17,-0.06],[21.19,0.06],[21.21,0.12],[21.23,0.03],[21.25,0.17],[21.27,-0.03],[21.29,0.10],[21.31,0.05],[21.33,0.21],[21.35,0.00],[21.37,0.12],[21.39,0.07],[21.41,0.16],[21.43,0.02],[21.45,0.25]];

const dip5 = [[21.49,0.51],[21.60,0.51],[21.60,0.69],[21.49,0.98],[21.60,1.01],[21.53,1.14],[21.60,1.47],[21.53,1.61],[21.53,1.76],[21.60,1.82],[21.53,1.90],[21.56,2.04],[21.56,2.06],[21.53,2.36],[21.53,2.39],[21.53,2.49],[21.56,2.51]];

const bandF = [[21.64,0.10],[21.66,0.22],[21.68,0.05],[21.70,0.16],[21.72,0.28],[21.74,0.09],[21.76,0.19],[21.78,0.02],[21.80,0.13],[21.82,0.25],[21.84,0.07],[21.86,0.17],[21.88,0.29],[21.90,0.11],[21.92,0.20],[21.94,0.04],[21.96,0.14],[21.98,0.26],[22.00,0.08],[22.02,0.18],[22.04,-0.02],[22.06,0.12],[22.08,0.23],[22.10,0.35],[22.12,0.06],[22.14,0.15],[22.16,0.21],[22.18,0.01],[22.20,0.13],[22.22,0.27],[22.24,0.09],[22.26,0.17],[22.28,-0.04],[22.30,0.11],[22.32,0.20],[22.34,0.05],[22.36,0.14],[22.38,0.24],[22.40,0.03],[22.42,0.12],[22.44,0.18],[22.46,-0.01],[22.48,0.09],[22.50,0.16],[22.52,0.04],[22.54,0.21],[22.56,0.10],[22.58,-0.05],[22.60,0.13],[22.62,0.07],[22.64,0.19],[22.66,0.00],[22.68,0.08],[22.70,0.15],
[22.74,-0.02],[22.76,-0.14],[22.78,0.04],[22.80,-0.08],[22.82,-0.28],[22.84,-0.11],[22.86,0.02],[22.88,-0.05],[22.90,-0.17],[22.92,0.07],[22.94,-0.09],[22.96,-0.01],[22.98,-0.21],[23.00,-0.06],[23.02,0.05],[23.04,-0.13],[23.06,-0.03],[23.08,-0.19],[23.10,0.01],[23.12,-0.10],[23.14,-0.07],[23.16,0.18],[23.18,-0.15],[23.20,-0.04],[23.22,0.06],[23.24,-0.12],[23.26,-0.24],[23.28,-0.02],[23.30,-0.09],[23.32,0.03],[23.34,-0.16],[23.36,-0.06],[23.38,0.08],[23.40,-0.11],[23.42,-0.20],[23.44,-0.01],[23.46,-0.08],[23.48,0.04],[23.50,-0.14],[23.52,-0.05],[23.54,-0.22],[23.56,0.02],[23.58,-0.10],[23.60,-0.03],[23.62,-0.17],[23.64,0.06],[23.66,-0.07],[23.68,-0.13],[23.70,0.00],[23.72,-0.25],[23.74,-0.09],[23.76,0.03],[23.78,-0.15],[23.80,-0.04],[23.82,-0.11],[23.84,0.07],[23.86,-0.19],[23.88,-0.06],[23.90,0.01],[23.92,-0.12],[23.94,-0.02],[23.96,-0.18],[23.98,0.05],[24.00,-0.08],[24.02,-0.14],[24.04,0.02],[24.06,-0.05],[24.08,-0.21],[24.10,-0.10],[24.12,0.04],[24.14,-0.03],[24.16,-0.16],[24.18,0.08],[24.20,-0.07],[24.22,-0.12],[24.24,0.00],[24.26,-0.18],[24.28,-0.04],[24.30,0.06],[24.32,-0.09],[24.34,-0.14],[24.36,0.02],[24.38,-0.06],[24.40,-0.20],[24.42,0.03],[24.44,-0.11],[24.46,-0.02],[24.48,0.09],
[24.50,-0.08],[24.52,0.04],[24.54,-0.13],[24.56,0.09],[24.58,-0.03],[24.60,0.13],[24.62,-0.06],[24.64,0.01],[24.66,-0.17],[24.68,0.07],[24.70,-0.01],[24.72,0.15],[24.74,-0.10],[24.76,0.03],[24.78,-0.05],[24.80,0.11],[24.82,-0.14],[24.84,0.02],[24.86,0.08],[24.88,-0.07],[24.90,0.17],[24.92,-0.02],[24.94,0.05],[24.96,-0.12],[24.98,0.10],[25.00,-0.04],[25.02,0.01],[25.04,-0.19],[25.06,0.06],[25.08,0.14],[25.10,-0.06],[25.12,0.03],[25.14,0.24],[25.16,-0.09],[25.18,0.08],[25.20,-0.01],[25.22,0.12],[25.24,-0.15],[25.26,0.04],[25.28,-0.03],[25.30,0.19],[25.32,-0.08],[25.34,0.06],[25.36,0.00],[25.38,-0.11],[25.40,0.13],[25.42,0.02],[25.44,-0.05],[25.46,0.24],[25.48,-0.16],[25.50,0.24],[25.52,0.07],[25.54,-0.02],[25.56,0.10],[25.58,-0.09],[25.60,0.04],[25.62,0.16],[25.64,-0.06],[25.66,0.01],[25.68,0.11],[25.70,-0.13],[25.72,0.05],[25.74,-0.01],[25.76,0.14],[25.78,-0.07],[25.80,0.32],[25.82,0.03],[25.84,-0.04],[25.86,0.09],[25.88,-0.10],[25.90,0.12],[25.92,0.02],[25.94,-0.05],[25.96,0.07],[25.98,0.17],[26.00,-0.03]];
const bandF2 = [[21.63,0.17],[21.65,0.05],[21.67,0.13],[21.69,0.25],[21.71,0.08],[21.73,0.18],[21.75,0.01],[21.77,0.14],[21.79,0.22],[21.81,0.06],[21.83,0.16],[21.85,0.30],[21.87,0.10],[21.89,0.19],[21.91,0.03],[21.93,0.15],[21.95,0.24],[21.97,0.09],[21.99,0.17],[22.01,0.00],[22.03,0.12],[22.05,0.21],[22.07,0.07],[22.09,0.16],[22.11,0.28],[22.13,0.04],[22.15,0.13],[22.17,0.19],[22.19,0.08],[22.21,0.17],[22.23,0.02],[22.25,0.14],[22.27,0.23],[22.29,0.10],[22.31,0.05],[22.33,0.16],[22.35,0.26],[22.37,0.08],[22.39,0.13],[22.41,-0.02],[22.43,0.11],[22.45,0.20],[22.47,0.06],[22.49,0.14],[22.51,0.01],[22.53,0.12],[22.55,0.17],[22.57,0.04],[22.59,0.09],[22.61,0.18],[22.63,-0.01],[22.65,0.11],[22.67,0.05],[22.69,0.13],[22.71,0.02],
[22.73,-0.09],[22.75,0.01],[22.77,-0.18],[22.79,-0.04],[22.81,0.05],[22.83,-0.13],[22.85,-0.06],[22.87,-0.21],[22.89,0.03],[22.91,-0.10],[22.93,-0.03],[22.95,-0.16],[22.97,0.06],[22.99,-0.08],[23.01,-0.13],[23.03,-0.01],[23.05,-0.20],[23.07,-0.07],[23.09,0.04],[23.11,-0.15],[23.13,-0.04],[23.15,-0.11],[23.17,0.02],[23.19,-0.09],[23.21,-0.18],[23.23,-0.02],[23.25,0.07],[23.27,-0.12],[23.29,-0.05],[23.31,-0.17],[23.33,0.00],[23.35,-0.10],[23.37,-0.22],[23.39,-0.03],[23.41,0.05],[23.43,-0.13],[23.45,-0.07],[23.47,-0.16],[23.49,0.02],[23.51,-0.09],[23.53,0.06],[23.55,-0.12],[23.57,-0.04],[23.59,-0.19],[23.61,-0.08],[23.63,0.03],[23.65,-0.14],[23.67,-0.02],[23.69,-0.10],[23.71,-0.17],[23.73,0.04],[23.75,-0.06],[23.77,-0.21],[23.79,-0.11],[23.81,0.01],[23.83,-0.08],[23.85,-0.14],[23.87,0.05],[23.89,-0.12],[23.91,-0.04],[23.93,-0.23],[23.95,-0.07],[23.97,0.02],[23.99,-0.15],[24.01,-0.03],[24.03,-0.10],[24.05,0.07],[24.07,-0.13],[24.09,-0.05],[24.11,-0.18],[24.13,0.00],[24.15,-0.09],[24.17,-0.02],[24.19,-0.15],[24.21,0.04],[24.23,-0.08],[24.25,-0.12],[24.27,0.03],[24.29,-0.17],[24.31,-0.05],[24.33,0.06],[24.35,-0.10],[24.37,-0.03],[24.39,0.01],[24.41,-0.13],[24.43,-0.06],[24.45,0.07],[24.47,-0.09],[24.49,0.00],
[24.51,0.06],[24.53,-0.05],[24.55,0.11],[24.57,-0.10],[24.59,0.02],[24.61,-0.03],[24.63,0.15],[24.65,0.04],[24.67,-0.07],[24.69,0.09],[24.71,-0.12],[24.73,0.05],[24.75,0.00],[24.77,0.13],[24.79,-0.08],[24.81,0.03],[24.83,-0.02],[24.85,0.12],[24.87,-0.11],[24.89,0.06],[24.91,-0.04],[24.93,0.10],[24.95,0.01],[24.97,-0.15],[24.99,0.07],[25.01,0.14],[25.03,-0.06],[25.05,0.03],[25.07,-0.03],[25.09,0.18],[25.11,-0.09],[25.13,0.05],[25.15,0.11],[25.17,-0.01],[25.19,-0.12],[25.21,0.08],[25.23,0.02],[25.25,0.15],[25.27,-0.07],[25.29,0.04],[25.31,-0.02],[25.33,0.10],[25.35,-0.13],[25.37,0.07],[25.39,0.01],[25.41,-0.06],[25.43,0.16],[25.45,0.03],[25.47,-0.09],[25.49,0.09],[25.51,-0.03],[25.53,0.13],[25.55,0.02],[25.57,-0.11],[25.59,0.06],[25.61,-0.04],[25.63,0.10],[25.65,0.20],[25.67,-0.08],[25.69,0.03],[25.71,0.08],[25.73,-0.02],[25.75,0.12],[25.77,0.01],[25.79,-0.10],[25.81,0.06],[25.83,0.15],[25.85,-0.05],[25.87,0.04],[25.89,0.09],[25.91,-0.08],[25.93,0.11],[25.95,0.00],[25.97,0.05],[25.99,-0.07],[26.01,0.10]];

const dip6 = [[26.15,0.21],[26.07,0.29],[26.15,0.48],[26.07,0.68],[26.15,0.82],[26.15,1.11],[26.07,1.13],[26.07,1.37],[26.15,1.44],[26.07,1.67],[26.15,1.73],[26.15,1.96],[26.15,2.10],[26.07,2.18],[26.11,2.20],[26.11,2.24],[26.11,2.26]];

const bandG = [[26.20,-0.04],[26.22,-0.16],[26.24,0.03],[26.26,-0.10],[26.28,-0.22],[26.30,-0.02],[26.32,-0.13],[26.34,0.06],[26.36,-0.07],[26.38,-0.19],[26.40,-0.01],[26.42,-0.11],[26.44,-0.27],[26.46,0.05],[26.48,-0.09],[26.50,-0.15],[26.52,0.01],[26.54,-0.06],[26.56,-0.20],[26.58,-0.12]];
const bandG2 = [[26.21,-0.10],[26.23,0.00],[26.25,-0.18],[26.27,-0.06],[26.29,0.04],[26.31,-0.14],[26.33,-0.08],[26.35,-0.23],[26.37,0.01],[26.39,-0.09],[26.41,-0.16],[26.43,-0.03],[26.45,-0.12],[26.47,0.03],[26.49,-0.20],[26.51,-0.07],[26.53,-0.11],[26.55,0.02],[26.57,-0.15],[26.59,-0.05]];

// scattered points above and below the main band
const strays = [[0.12,-0.16],[0.27,0.27],[0.45,-0.14],[0.62,0.25],[0.81,-0.17],[0.95,0.26],[1.18,-0.15],[1.36,0.28],[1.52,-0.18],[1.72,0.25],[1.88,-0.14],[2.05,0.27],[2.26,-0.16],[2.44,0.29],[2.62,-0.15],[2.81,0.25],[2.98,-0.17],[3.12,0.26],
[3.50,-0.19],[3.66,0.24],[3.85,-0.20],[4.04,0.23],[4.22,-0.18],[4.41,0.26],[4.60,-0.19],[4.75,0.22],[4.93,-0.27],[5.11,0.17],[5.33,0.16],[5.47,-0.26],[5.68,0.22],[5.87,-0.20],[6.05,0.24],[6.26,-0.21],[6.45,0.22],[6.64,-0.22],[6.80,0.24],[7.04,0.10],[7.28,-0.33],[7.44,0.09],[7.62,-0.34],[7.76,0.12],
[8.09,-0.30],[8.25,0.13],[8.47,-0.29],[8.66,0.15],[8.89,-0.31],[9.13,0.14],[9.33,-0.30],[9.49,0.15],[9.71,0.32],[9.89,-0.10],[10.05,0.34],[10.27,-0.11],[10.46,0.36],[10.63,-0.09],[10.85,0.35],[11.03,-0.12],[11.21,0.31],[11.41,-0.22],[11.59,0.17],[11.78,-0.30],[11.95,0.10],[12.12,-0.38],[12.27,0.03],
[13.05,0.40],[13.27,-0.03],[13.44,0.30],[13.63,-0.18],[13.85,0.22],[14.05,-0.24],[14.27,0.18],[14.46,-0.27],[14.66,0.15],[14.86,-0.30],[15.04,0.12],[15.23,-0.32],[15.42,0.13],[15.61,-0.30],[15.81,0.14],[16.01,-0.27],[16.21,0.20],[16.41,-0.22],[16.62,0.24],[16.79,-0.15],
[17.21,0.30],[17.45,-0.10],[17.67,0.24],[17.88,-0.20],[18.11,0.20],[18.33,-0.29],[18.55,0.12],[18.77,-0.31],[18.99,0.13],[19.19,-0.32],[19.39,0.12],[19.63,-0.30],[19.85,0.14],[20.07,-0.28],[20.29,0.17],[20.51,-0.24],[20.73,0.22],[20.95,-0.19],[21.17,0.27],[21.37,-0.13],
[21.71,0.37],[21.93,-0.08],[22.15,0.38],[22.37,-0.09],[22.59,0.32],[22.84,0.14],[23.05,-0.30],[23.27,0.15],[23.49,-0.31],[23.69,0.14],[23.91,-0.29],[24.13,0.16],[24.35,-0.30],[24.59,0.23],[24.79,-0.24],[25.01,0.22],[25.21,-0.22],[25.41,0.25],[25.61,-0.20],[25.83,0.24],
[26.29,-0.33],[26.47,0.15]];

const allPoints = [].concat(bandA, bandA2, dip1, bandB, bandB2, dip2, bandC, bandC2, dip3,
  bandD, bandD2, dip4, bandE, bandE2, dip5, bandF, bandF2, dip6, bandG, bandG2, strays);

const axisGray = '#8e9a9b';
const labelGray = '#aab6b7';
const font = "'Liberation Sans', Arial, sans-serif";

const chart = echarts.init(document.getElementById('chart'), null, {renderer: 'canvas'});
chart.setOption({
  animation: false,
  backgroundColor: '#023a43',
  grid: {left: 1, right: 1, top: 1, bottom: 1, containLabel: false, outerBoundsMode: 'none'},
  xAxis: [{
    type: 'value', position: 'bottom', min: 0, max: 26.65,
    name: xLabel, nameLocation: 'middle', nameGap: -19, nameMoveOverlap: false,
    nameTextStyle: {color: labelGray, fontSize: 9, fontFamily: font},
    axisLine: {show: true, onZero: false, lineStyle: {color: axisGray, width: 2}},
    axisTick: {show: true, inside: true, length: 6, customValues: xTicks, lineStyle: {color: axisGray}},
    axisLabel: {show: true, inside: true, customValues: xTicks, margin: 8, color: labelGray, fontSize: 8, fontFamily: font},
    splitLine: {show: false}
  }, {
    type: 'value', position: 'top', min: 0, max: 26.65,
    axisLine: {show: true, onZero: false, lineStyle: {color: axisGray, width: 2}},
    axisTick: {show: true, inside: true, length: 6, customValues: xTicks, lineStyle: {color: axisGray}},
    axisLabel: {show: false},
    splitLine: {show: false}
  }],
  yAxis: [{
    type: 'value', position: 'left', inverse: true, min: -0.656, max: 2.812,
    axisLine: {show: true, onZero: false, lineStyle: {color: axisGray, width: 2}},
    axisTick: {show: true, inside: true, length: 5, customValues: yTicks, lineStyle: {color: axisGray}},
    axisLabel: {show: true, inside: true, customValues: yTicks, align: 'right', margin: 16,
      color: labelGray, fontSize: 8, fontFamily: font,
      formatter: v => Number(v).toFixed(1)},
    splitLine: {show: false}
  }, {
    type: 'value', position: 'right', inverse: true, min: -0.656, max: 2.812,
    axisLine: {show: true, onZero: false, lineStyle: {color: axisGray, width: 2}},
    axisTick: {show: true, inside: true, length: 5, customValues: yTicks, lineStyle: {color: axisGray}},
    axisLabel: {show: false},
    splitLine: {show: false}
  }],
  series: [{
    type: 'scatter',
    xAxisIndex: 0, yAxisIndex: 0,
    data: allPoints,
    symbol: 'circle',
    symbolSize: 3,
    itemStyle: {color: '#ffffff', opacity: 1},
    emphasis: {disabled: true},
    clip: true
  }]
});
</script>
</body>
</html>
